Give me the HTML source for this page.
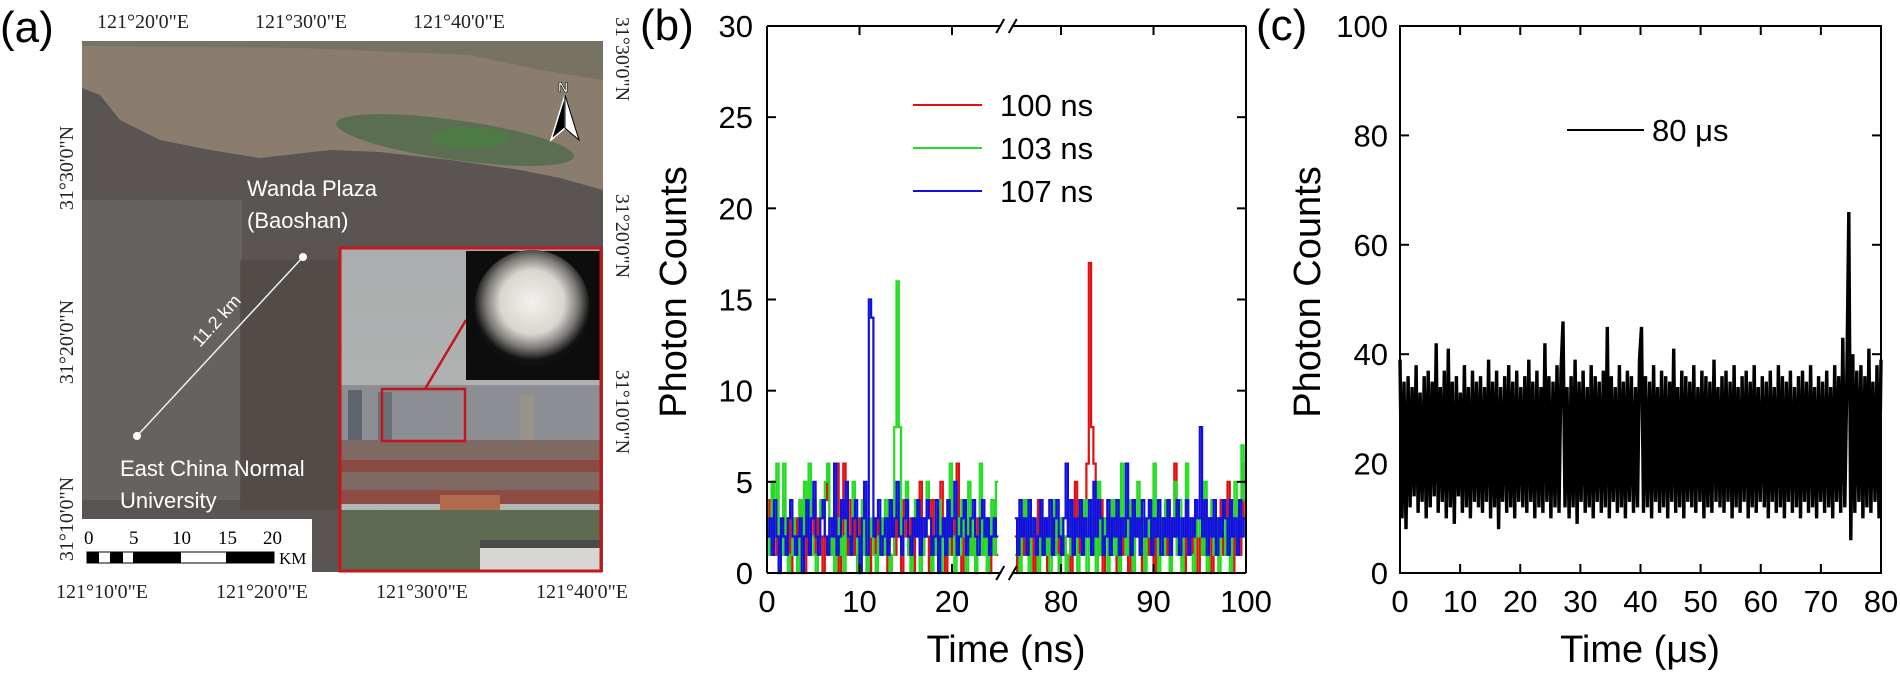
<!DOCTYPE html>
<html><head><meta charset="utf-8"><title>Photon counts figure</title>
<style>
html,body{margin:0;padding:0;background:#fff;}
svg{display:block;font-family:"Liberation Sans",Arial,sans-serif;}
.serif{font-family:"Liberation Serif","Times New Roman",serif;}
</style></head>
<body>
<svg id="fig" width="1900" height="677" viewBox="0 0 1900 677" xmlns="http://www.w3.org/2000/svg">
<defs>
  <radialGradient id="scope" cx="50%" cy="45%" r="50%">
    <stop offset="0%" stop-color="#f4f2ee"/>
    <stop offset="55%" stop-color="#d9d6d0"/>
    <stop offset="80%" stop-color="#7a7874"/>
    <stop offset="100%" stop-color="#111"/>
  </radialGradient>
  <linearGradient id="sky" x1="0" y1="0" x2="0" y2="1">
    <stop offset="0%" stop-color="#a9adad"/>
    <stop offset="100%" stop-color="#b5b9b8"/>
  </linearGradient>
</defs>

<g>
  <text x="0" y="42" font-size="44">(a)</text>
  <rect x="82" y="41" width="521" height="531" fill="#5a5552"/>
  <rect x="82" y="200" width="160" height="300" fill="#6a6866" opacity="0.7"/>
  <rect x="240" y="260" width="110" height="250" fill="#4e4846" opacity="0.7"/>
  <polygon points="82,41 603,41 603,190 560,178 520,170 450,160 380,152 330,150 260,158 210,150 160,140 120,120 100,95 82,88" fill="#8b7d6d"/>
  <polygon points="82,41 603,41 603,80 540,70 470,55 300,48 82,46" fill="#6a6a5c" opacity="0.6"/>
  <ellipse cx="455" cy="140" rx="120" ry="20" transform="rotate(8 455 140)" fill="#5b6e52"/>
  <ellipse cx="470" cy="138" rx="40" ry="10" fill="#4e7a45"/>
  <line x1="303" y1="257" x2="137" y2="436" stroke="#eee" stroke-width="1.5"/>
  <circle cx="303" cy="257" r="4" fill="#fff"/>
  <circle cx="137" cy="436" r="4" fill="#fff"/>
  <text x="200" y="348" font-size="18" fill="#fff" transform="rotate(-48 200 348)">11.2 km</text>
  <text x="247" y="196" font-size="22" fill="#fff">Wanda Plaza</text>
  <text x="247" y="228" font-size="22" fill="#fff">(Baoshan)</text>
  <text x="120" y="476" font-size="22" fill="#fff">East China Normal</text>
  <text x="120" y="508" font-size="22" fill="#fff">University</text>
  <g>
    <polygon points="565,95 551,140 565,128" fill="#000" stroke="#fff" stroke-width="1.5"/>
    <polygon points="565,95 579,140 565,128" fill="#fff" stroke="#000" stroke-width="1"/>
    <text x="558" y="92" font-size="14" font-weight="bold" fill="#fff" stroke="#000" stroke-width="0.6">N</text>
  </g>
  <g class="serif">
    <rect x="82" y="519" width="230" height="53" fill="#fff"/>
    <text x="84" y="544" font-size="19">0</text>
    <text x="129" y="544" font-size="19">5</text>
    <text x="172" y="544" font-size="19">10</text>
    <text x="218" y="544" font-size="19">15</text>
    <text x="263" y="544" font-size="19">20</text>
    <rect x="87" y="552" width="187" height="11" fill="#fff" stroke="#000" stroke-width="1"/>
    <rect x="87" y="552" width="12" height="11" fill="#000"/>
    <rect x="110" y="552" width="13" height="11" fill="#000"/>
    <rect x="133" y="552" width="48" height="11" fill="#000"/>
    <rect x="226" y="552" width="48" height="11" fill="#000"/>
    <text x="279" y="564" font-size="17">KM</text>
  </g>
  <g>
    <rect x="340" y="248" width="261" height="323" fill="url(#sky)"/>
    <rect x="340" y="385" width="261" height="60" fill="#8d8e93"/>
    <rect x="348" y="390" width="14" height="55" fill="#5f6570"/>
    <rect x="378" y="392" width="14" height="50" fill="#6a7078"/>
    <rect x="520" y="395" width="14" height="50" fill="#9a938a"/>
    <rect x="340" y="440" width="261" height="60" fill="#7e6a63"/>
    <rect x="340" y="460" width="261" height="12" fill="#8a4b45"/>
    <rect x="340" y="490" width="261" height="14" fill="#8f4c44"/>
    <rect x="440" y="495" width="60" height="25" fill="#b06a4e"/>
    <rect x="340" y="510" width="261" height="61" fill="#5f6a52"/>
    <rect x="480" y="540" width="121" height="31" fill="#d8d6d2"/>
    <rect x="480" y="540" width="121" height="8" fill="#4a4a4a"/>
    <rect x="382" y="389" width="83" height="52" fill="none" stroke="#c4161c" stroke-width="2.5"/>
    <line x1="425" y1="389" x2="466" y2="320" stroke="#c4161c" stroke-width="2.5"/>
    <rect x="466" y="251" width="134" height="129" fill="#0c0d0c"/>
    <circle cx="532" cy="308" r="58" fill="url(#scope)"/>
    <rect x="340" y="248" width="261" height="323" fill="none" stroke="#c4161c" stroke-width="3"/>
  </g>
  <g class="serif" font-size="20" fill="#222">
    <text x="143" y="28" text-anchor="middle">121°20'0"E</text>
    <text x="301" y="28" text-anchor="middle">121°30'0"E</text>
    <text x="459" y="28" text-anchor="middle">121°40'0"E</text>
    <text x="102" y="598" text-anchor="middle">121°10'0"E</text>
    <text x="262" y="598" text-anchor="middle">121°20'0"E</text>
    <text x="422" y="598" text-anchor="middle">121°30'0"E</text>
    <text x="582" y="598" text-anchor="middle">121°40'0"E</text>
    <text transform="translate(73,168) rotate(-90)" text-anchor="middle">31°30'0"N</text>
    <text transform="translate(73,342) rotate(-90)" text-anchor="middle">31°20'0"N</text>
    <text transform="translate(73,519) rotate(-90)" text-anchor="middle">31°10'0"N</text>
    <text transform="translate(616,59) rotate(90)" text-anchor="middle">31°30'0"N</text>
    <text transform="translate(616,236) rotate(90)" text-anchor="middle">31°20'0"N</text>
    <text transform="translate(616,412) rotate(90)" text-anchor="middle">31°10'0"N</text>
  </g>
</g>

<g id="panelB">
  <text x="640" y="40" font-size="44">(b)</text>
</g>
<g id="panelC">
  <text x="1256" y="40" font-size="44">(c)</text>
</g>
</svg>

<script>
// ---------- Panel B data ----------
const bSeriesNames = ["100 ns", "103 ns", "107 ns"];
const bSeriesColors = ["#e01010", "#22dd22", "#1010e0"];
const bYTicks = [0, 5, 10, 15, 20, 25, 30];
const bXTicksLeft = [0, 10, 20];
const bXTicksRight = [80, 90, 100];
const bLeftStart = 0, bRightStart = 75, bStep = 0.25;
const redLeft = [2,4,5,1,3,0,2,4,1,3, 0,2,3,1,4,2,0,3,1,2, 4,1,3,2,0,4,6,1,3,2, 6,0,2,6,1,4,2,3,1,0, 3,2,4,1,0,2,3,1,3,2, 1,3,0,2,4,1,3,2,0,4, 2,1,3,0,4,2,5,1,3,2, 0,4,2,1,3,5,2,0,4,1, 3,2,6,1,0,4,2,3,1,2, 0,3,4,1,2,3,0,2,4,1];
const greenLeft = [3,1,5,2,6,0,1,6,2,0, 1,3,2,0,4,1,5,3,6,2, 1,0,2,4,3,5,6,1,2,0, 3,1,2,0,4,2,1,5,3,0, 2,4,1,0,3,2,1,0,2,3, 1,4,2,0,1,8,16,8,2,3, 5,1,0,2,4,3,0,1,2,5, 3,0,2,1,4,0,2,3,1,6, 2,0,3,1,4,2,0,5,1,3, 0,2,6,1,3,0,2,4,1,5];
const blueLeft = [2,3,1,4,2,0,3,2,1,3, 4,2,1,2,3,0,2,4,1,3, 5,2,1,3,4,2,1,3,2,6, 1,2,4,3,5,2,1,3,4,2, 0,3,5,1,15,14,2,3,4,1, 2,3,1,4,2,3,5,2,1,3, 4,2,1,3,2,4,1,3,2,4, 3,1,2,4,0,2,3,1,4,2, 3,5,1,2,3,4,1,2,3,4, 2,1,3,4,2,3,1,2,3,2];
const redRight = [2,0,3,1,4,2,1,3,0,2, 4,1,3,2,0,4,1,3,2,0, 3,1,2,4,0,2,5,3,1,4, 2,6,17,8,6,2,1,4,0,3, 2,1,3,4,0,2,1,3,2,0, 4,1,3,2,4,0,2,1,3,2, 0,4,1,2,3,1,4,0,2,6, 3,1,2,0,4,2,1,3,4,0, 2,1,4,2,3,0,2,1,3,4, 1,2,5,3,0,2,4,1,3,6];
const greenRight = [1,3,0,2,4,1,0,3,2,1, 0,4,2,1,3,0,2,4,1,0, 3,2,0,1,4,2,3,0,1,2, 4,0,3,1,2,0,5,1,3,2, 0,2,4,1,3,0,6,2,1,4, 3,0,2,5,1,3,0,2,4,1, 6,2,0,3,1,4,2,0,3,5, 1,4,0,2,6,3,1,0,4,2, 3,1,5,0,2,4,1,3,0,2, 4,1,3,0,2,5,1,3,7,4];
const blueRight = [3,1,4,2,3,1,4,2,3,1, 2,4,1,3,2,4,1,3,4,2, 1,3,6,2,4,1,3,2,4,1, 3,2,4,1,5,2,4,3,1,2, 4,1,3,2,4,1,3,2,6,3, 1,4,2,3,1,4,2,3,4,1, 3,2,4,1,3,2,4,1,3,2, 4,1,3,2,4,1,3,2,4,3, 8,2,4,1,3,2,4,1,3,2, 4,3,1,4,2,3,1,4,2,3];

// ---------- Panel C data ----------
const cSeriesName = "80 \u03bcs";
const cYTicks = [0, 20, 40, 60, 80, 100];
const cXTicks = [0, 10, 20, 30, 40, 50, 60, 70, 80];
const cDuration = 80;
const cCounts = [
39,10,35,8,36,12,34,14,38,11,33,13,36,10,37,12,35,14,42,11,
34,13,37,10,41,12,35,9,36,14,33,11,38,12,34,10,37,13,35,12,
36,11,34,13,39,10,35,12,37,8,34,13,36,11,38,12,35,10,37,13,
34,12,36,11,39,13,35,10,37,12,34,11,42,13,36,10,35,12,38,11,
37,46,12,34,10,36,12,39,9,35,13,37,11,34,12,38,10,36,13,35,
11,37,12,45,10,36,13,34,11,38,12,35,10,37,13,36,11,34,12,39,
45,11,36,12,35,10,38,13,34,11,37,12,36,10,35,13,41,11,34,12,
37,10,36,13,35,12,38,11,34,13,37,10,36,12,35,11,39,13,34,12,
36,11,37,13,35,10,38,12,34,11,36,13,37,10,35,12,38,11,34,13,
36,12,35,10,37,13,34,11,38,12,36,10,35,13,37,11,34,12,36,10,
37,13,35,11,38,12,34,10,36,13,35,11,37,12,34,10,38,13,36,11,
43,12,35,66,6,40,11,37,13,38,10,36,12,41,11,35,13,38,10,39];

const NS = "http://www.w3.org/2000/svg";
function mk(parent, tag, attrs, text) {
  const e = document.createElementNS(NS, tag);
  for (const k in attrs) e.setAttribute(k, attrs[k]);
  if (text !== undefined) e.textContent = text;
  parent.appendChild(e);
  return e;
}

(function () {
  const g = document.getElementById("panelB");
  const L = 767, R = 1246, T = 26, B = 573;
  const pxPerNs = 9.25;
  const yS = v => B - (v / 30) * (B - T);
  const xS = t => t <= 25 ? L + t * pxPerNs : R - (100 - t) * pxPerNs;
  const leftEnd = xS(25), rightStart = xS(75);
  const series = [[redLeft, redRight], [greenLeft, greenRight], [blueLeft, blueRight]];
  series.forEach((pair, si) => {
    [[pair[0], bLeftStart], [pair[1], bRightStart]].forEach(([arr, start]) => {
      const end = start === 0 ? 25 : 100;
      let d = "";
      arr.forEach((v, i) => {
        const t0 = start + i * bStep;
        const t1 = Math.min(t0 + bStep, end);
        const y = yS(v).toFixed(1);
        d += (i === 0 ? "M" + xS(t0).toFixed(1) + "," + y : "V" + y) + "H" + xS(t1).toFixed(1);
      });
      const p = mk(g, "path", {d: d, fill: "none", stroke: bSeriesColors[si], "stroke-width": 2.2});
      
      
    });
  });
  const ax = mk(g, "g", {});
  
  
  const st = {stroke: "#000", "stroke-width": 2, fill: "none"};
  mk(ax, "line", Object.assign({x1: L, y1: T, x2: L, y2: B}, st));
  mk(ax, "line", Object.assign({x1: R, y1: T, x2: R, y2: B}, st));
  mk(ax, "line", Object.assign({x1: L, y1: T, x2: leftEnd + 3, y2: T}, st));
  mk(ax, "line", Object.assign({x1: rightStart - 3, y1: T, x2: R, y2: T}, st));
  mk(ax, "line", Object.assign({x1: L, y1: B, x2: leftEnd + 3, y2: B}, st));
  mk(ax, "line", Object.assign({x1: rightStart - 3, y1: B, x2: R, y2: B}, st));
  [T, B].forEach(yy => {
    mk(ax, "line", Object.assign({x1: leftEnd - 2, y1: yy + 7, x2: leftEnd + 6, y2: yy - 7}, st));
    mk(ax, "line", Object.assign({x1: rightStart - 6, y1: yy + 7, x2: rightStart + 2, y2: yy - 7}, st));
  });
  bYTicks.forEach(v => {
    const y = yS(v);
    mk(ax, "line", {x1: L, y1: y, x2: L + 9, y2: y, stroke: "#000", "stroke-width": 2});
    mk(ax, "line", {x1: R, y1: y, x2: R - 9, y2: y, stroke: "#000", "stroke-width": 2});
    const t = mk(ax, "text", {x: 753, y: y + 11, "font-size": 31, "text-anchor": "end"}, String(v));
    
    
  });
  bXTicksLeft.concat(bXTicksRight).forEach(v => {
    const x = xS(v);
    mk(ax, "line", {x1: x, y1: B, x2: x, y2: B - 9, stroke: "#000", "stroke-width": 2});
    mk(ax, "line", {x1: x, y1: T, x2: x, y2: T + 9, stroke: "#000", "stroke-width": 2});
    const t = mk(ax, "text", {x: x, y: 612, "font-size": 31, "text-anchor": "middle"}, String(v));
    
    
  });
  const xt = mk(ax, "text", {x: 1006, y: 662, "font-size": 38, "text-anchor": "middle"}, "Time (ns)");
  
  
  const yt = mk(ax, "text", {transform: "translate(686,292) rotate(-90)", "font-size": 38, "text-anchor": "middle"}, "Photon Counts");
  
  
  const rowsY = [105, 148, 191];
  bSeriesNames.forEach((n, i) => {
    const lg = mk(g, "g", {});
    
    
    mk(lg, "line", {x1: 913, y1: rowsY[i], x2: 982, y2: rowsY[i], stroke: bSeriesColors[i], "stroke-width": 2});
    mk(lg, "text", {x: 1000, y: rowsY[i] + 11, "font-size": 31}, n);
  });
})();

(function () {
  const g = document.getElementById("panelC");
  const L = 1400, R = 1881, T = 26, B = 573;
  const yS = v => B - (v / 100) * (B - T);
  const xS = t => L + (t / cDuration) * (R - L);
  const n = cCounts.length;
  const pts = cCounts.map((v, i) => xS(i * cDuration / (n - 1)).toFixed(1) + "," + yS(v).toFixed(1));
  const p = mk(g, "polyline", {points: pts.join(" "), fill: "none", stroke: "#000", "stroke-width": 3.4, "stroke-linejoin": "bevel"});
  
  
  const ax = mk(g, "g", {});
  
  
  mk(ax, "rect", {x: L, y: T, width: R - L, height: B - T, fill: "none", stroke: "#000", "stroke-width": 2});
  cYTicks.forEach(v => {
    const y = yS(v);
    mk(ax, "line", {x1: L, y1: y, x2: L + 9, y2: y, stroke: "#000", "stroke-width": 2});
    mk(ax, "line", {x1: R, y1: y, x2: R - 9, y2: y, stroke: "#000", "stroke-width": 2});
    const t = mk(ax, "text", {x: 1388, y: y + 11, "font-size": 31, "text-anchor": "end"}, String(v));
    
    
  });
  cXTicks.forEach(v => {
    const x = xS(v);
    mk(ax, "line", {x1: x, y1: B, x2: x, y2: B - 9, stroke: "#000", "stroke-width": 2});
    mk(ax, "line", {x1: x, y1: T, x2: x, y2: T + 9, stroke: "#000", "stroke-width": 2});
    const t = mk(ax, "text", {x: x, y: 612, "font-size": 31, "text-anchor": "middle"}, String(v));
    
    
  });
  const xt = mk(ax, "text", {x: 1640, y: 662, "font-size": 38, "text-anchor": "middle"}, "Time (\u03bcs)");
  
  
  const yt = mk(ax, "text", {transform: "translate(1320,292) rotate(-90)", "font-size": 38, "text-anchor": "middle"}, "Photon Counts");
  
  
  const lg = mk(g, "g", {});
  
  
  mk(lg, "line", {x1: 1567, y1: 130, x2: 1644, y2: 130, stroke: "#000", "stroke-width": 2});
  mk(lg, "text", {x: 1652, y: 141, "font-size": 31}, cSeriesName);
})();
</script>
</body></html>
